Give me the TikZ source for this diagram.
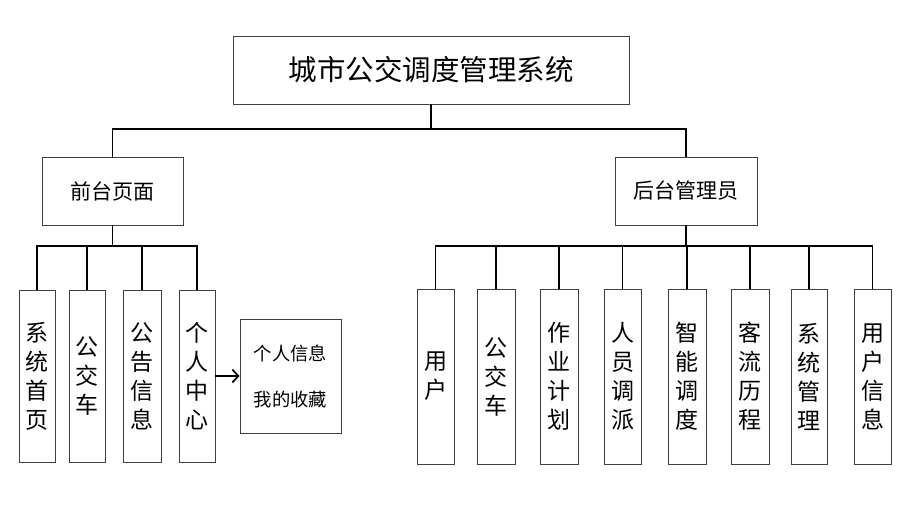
\documentclass[tikz,border=0pt]{standalone}
\usepackage{fontspec}
\newfontfamily\cjk{Noto Sans CJK SC}
\usetikzlibrary{arrows.meta}
\tikzset{
  box/.style={draw=black!75, line width=0.9pt, fill=white, rectangle, inner sep=0pt, align=center},
  leaf/.style={box, minimum height=172pt, font=\cjk\fontsize{23}{29}\selectfont},
  bleaf/.style={box, minimum height=175pt, font=\cjk\fontsize{23}{29}\selectfont},
  conn/.style={draw=black, line width=1.8pt},
}
\begin{document}
\begin{tikzpicture}[x=1pt,y=-1pt]
\useasboundingbox (0,0) rectangle (921,509);
\node[box, minimum width=396pt, minimum height=68pt, font=\cjk\fontsize{28.5}{32}\selectfont] (title) at (431,70) {城市公交调度管理系统};
\node[box, minimum width=141pt, minimum height=68pt, font=\cjk\fontsize{21}{24}\selectfont] (front) at (112.5,191) {前台页面};
\node[box, minimum width=142pt, minimum height=68pt, font=\cjk\fontsize{21}{24}\selectfont] (back) at (686,191) {后台管理员};

\node[leaf, minimum width=36pt] (f1) at (37,376) {系\\统\\首\\页};
\node[leaf, minimum width=36pt] (f2) at (87,376) {公\\交\\车};
\node[leaf, minimum width=38pt] (f3) at (142,376) {公\\告\\信\\息};
\node[leaf, minimum width=36pt] (f4) at (197,376) {个\\人\\中\\心};
\node[box, minimum width=101pt, minimum height=114pt, font=\cjk\fontsize{18.3}{46}\selectfont] (info) at (290.5,376) {个人信息\\我的收藏};

\node[bleaf, minimum width=37pt] (b1) at (435.5,376.5) {用\\户};
\node[bleaf, minimum width=38pt] (b2) at (496,376.5) {公\\交\\车};
\node[bleaf, minimum width=38pt] (b3) at (559,376.5) {作\\业\\计\\划};
\node[bleaf, minimum width=37pt] (b4) at (622.5,376.5) {人\\员\\调\\派};
\node[bleaf, minimum width=38pt] (b5) at (687,376.5) {智\\能\\调\\度};
\node[bleaf, minimum width=38pt] (b6) at (750,376.5) {客\\流\\历\\程};
\node[bleaf, minimum width=36pt] (b7) at (809,376.5) {系\\统\\管\\理};
\node[bleaf, minimum width=37pt] (b8) at (872.5,376.5) {用\\户\\信\\息};

\coordinate (j0) at (431,129);
\coordinate (j1) at (112.5,246);
\coordinate (j2) at (686,246);

\draw[conn] (title.south) -- (j0);
\draw[conn] (front.north) |- (j0) -| (back.north);
\draw[conn] (front.south) -- (j1);
\draw[conn] (back.south) -- (j2);
\foreach \n in {f1,f2,f3,f4} \draw[conn] (j1) -| (\n.north);
\foreach \n in {b1,b2,b3,b4,b5,b6,b7,b8} \draw[conn] (j2) -| (\n.north);
\draw[conn, -{Straight Barb[length=6pt,width=13pt,line width=1.8pt]}] (f4.east) -- (info.west);
\end{tikzpicture}
\end{document}
